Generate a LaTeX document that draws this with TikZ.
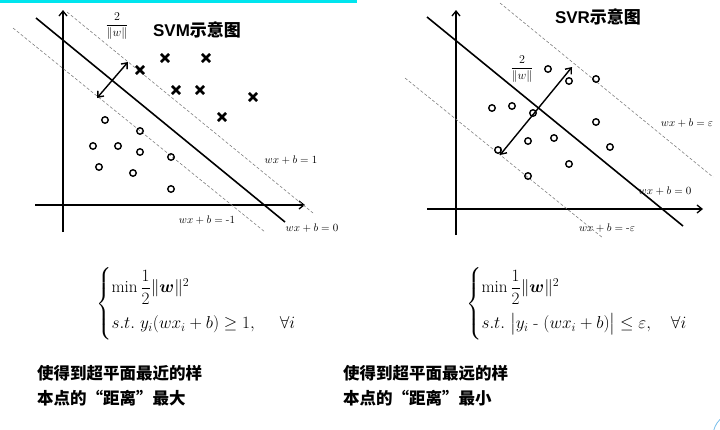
\documentclass[tikz,border=0pt]{standalone}
\usepackage{amsmath}
\usepackage{fontspec}
\newfontfamily\cjk{Noto Sans CJK SC}
\newfontfamily\titlesf{Liberation Sans}
\usetikzlibrary{arrows.meta,shapes.misc}
\definecolor{barcyan}{RGB}{0,229,238}
\definecolor{arcblue}{RGB}{120,190,235}
\begin{document}
\begin{tikzpicture}[
                        x=1pt, y=-1pt,
                        >={Straight Barb[length=5pt,width=8pt]},
                        axis/.style={->, line width=1.3pt},
                        plane/.style={line width=1.6pt},
                        margin/.style={gray, line width=0.6pt, dash pattern=on 3pt off 2pt},
                        posx/.style={cross out, draw, line width=2.6pt, minimum size=5.5pt, inner sep=0pt},
                        negpt/.style={circle, draw, line width=1.4pt, minimum size=6.5pt, inner sep=0pt},
                        eqlbl/.style={inner sep=0pt, font=\fontsize{10.95}{13}\selectfont},
                        gaplbl/.style={inner sep=0pt, font=\fontsize{12}{14}\selectfont},
                        title/.style={inner sep=0pt, font=\fontsize{17}{20}\selectfont\bfseries},
                        optlbl/.style={inner sep=0pt, anchor=west, font=\fontsize{17}{20}\selectfont},
                        note/.style={inner sep=0pt, anchor=west, align=left, font=\cjk\bfseries\fontsize{16.5}{25}\selectfont}
                    ]
                    \useasboundingbox (0,0) rectangle (720,429);
                    \fill [barcyan] (0,0) rectangle (357,2.5);
                    \begin{scope}
                        \clip (0,0) rectangle (720,429);
                        \draw [arcblue, line width=0.8pt] (736,436) circle (23);
                    \end{scope}

                    % SVM: axes, planes, margin
                    \coordinate (Lx0) at (35,205);   \coordinate (Lx1) at (305,205);
                    \coordinate (Ly0) at (63,232);   \coordinate (Ly1) at (63,10);
                    \coordinate (Lp0) at (36,18);    \coordinate (Lp1) at (285,222);
                    \coordinate (Lu0) at (67,12);    \coordinate (Lu1) at (313,213);
                    \coordinate (Ll0) at (13,28);    \coordinate (Ll1) at (265,232);
                    \coordinate (La0) at (97,98);    \coordinate (La1) at (128,62);
                    \draw [axis] (Lx0) -- (Lx1);
                    \draw [axis] (Ly0) -- (Ly1);
                    \draw [plane] (Lp0) -- (Lp1);
                    \draw [margin] (Lu0) -- (Lu1);
                    \draw [margin] (Ll0) -- (Ll1);
                    \draw [<->, line width=1.4pt] (La0) -- (La1);

                    % SVM: samples
                    \node [posx] (x1) at (165,58) {};
                    \node [posx] (x2) at (206,58) {};
                    \node [posx] (x3) at (140,70) {};
                    \node [posx] (x4) at (176,90) {};
                    \node [posx] (x5) at (200,90) {};
                    \node [posx] (x6) at (253,97) {};
                    \node [posx] (x7) at (222,117) {};
                    \node [negpt] (o1) at (105,120) {};
                    \node [negpt] (o2) at (140,131) {};
                    \node [negpt] (o3) at (93,146) {};
                    \node [negpt] (o4) at (118,146) {};
                    \node [negpt] (o5) at (140,152) {};
                    \node [negpt] (o6) at (171,157) {};
                    \node [negpt] (o7) at (99,167) {};
                    \node [negpt] (o8) at (133,173) {};
                    \node [negpt] (o9) at (171,189) {};

                    % SVM: labels
                    \node [title] (svmtitle) at (197,30) {\titlesf SVM\cjk 示意图};
                    \node [gaplbl] (Lgap) at (117,26) {$\dfrac{2}{\|w\|}$};
                    \node [eqlbl] (Lone) at (291,160) {$wx+b=1$};
                    \node [eqlbl] (Lmone) at (207,220) {$wx+b=\text{-}1$};
                    \node [eqlbl] (Lzero) at (312,228) {$wx+b=0$};

                    % SVR: axes, planes, tube
                    \coordinate (Rx0) at (427,209);  \coordinate (Rx1) at (703,209);
                    \coordinate (Ry0) at (456,235);  \coordinate (Ry1) at (456,10);
                    \coordinate (Rp0) at (427,17);   \coordinate (Rp1) at (683,226);
                    \coordinate (Ru0) at (500,3);    \coordinate (Ru1) at (713,177);
                    \coordinate (Rl0) at (405,78);   \coordinate (Rl1) at (603,238);
                    \coordinate (Ra0) at (500,155);  \coordinate (Ra1) at (572,67);
                    \draw [axis] (Rx0) -- (Rx1);
                    \draw [axis] (Ry0) -- (Ry1);
                    \draw [plane] (Rp0) -- (Rp1);
                    \draw [margin] (Ru0) -- (Ru1);
                    \draw [margin] (Rl0) -- (Rl1);
                    \draw [<->, line width=1.4pt] (Ra0) -- (Ra1);

                    % SVR: samples
                    \node [negpt] (r1) at (548,69) {};
                    \node [negpt] (r2) at (569,81) {};
                    \node [negpt] (r3) at (596,79) {};
                    \node [negpt] (r4) at (492,108) {};
                    \node [negpt] (r5) at (512,106) {};
                    \node [negpt] (r6) at (533,113) {};
                    \node [negpt] (r7) at (596,122) {};
                    \node [negpt] (r8) at (528,141) {};
                    \node [negpt] (r9) at (554,138) {};
                    \node [negpt] (r10) at (610,147) {};
                    \node [negpt] (r11) at (498,150) {};
                    \node [negpt] (r12) at (569,164) {};
                    \node [negpt] (r13) at (528,176) {};

                    % SVR: labels
                    \node [title] (svrtitle) at (598,17) {\titlesf SVR\cjk 示意图};
                    \node [gaplbl] (Rgap) at (522,69) {$\dfrac{2}{\|w\|}$};
                    \node [eqlbl] (Reps) at (687,123) {$wx+b=\varepsilon$};
                    \node [eqlbl] (Rzero) at (665,191) {$wx+b=0$};
                    \node [eqlbl] (Rmeps) at (607,228) {$wx+b=\text{-}\varepsilon$};

                    % Problems
                    \node [optlbl] (svmopt) at (96,304) {$\left\{\renewcommand{\arraystretch}{1.7}\begin{array}{@{}l@{}}
                        \min\dfrac{1}{2}\|\boldsymbol{w}\|^2\\
                        s.t.\ y_i(wx_i+b)\ge1,\quad\ \forall i
                      \end{array}\right.$};
                    \node [optlbl] (svropt) at (466,304) {$\left\{\renewcommand{\arraystretch}{1.7}\begin{array}{@{}l@{}}
                        \min\dfrac{1}{2}\|\boldsymbol{w}\|^2\\
                        s.t.\ \bigl|y_i\;\text{-}\;(wx_i+b)\bigr|\le\varepsilon,\quad\forall i
                      \end{array}\right.$};

                    % Notes
                    \node [note] (svmnote) at (37,386) {使得到超平面最近的样\\本点的“距离”最大};
                    \node [note] (svrnote) at (343,386) {使得到超平面最远的样\\本点的“距离”最小};
                \end{tikzpicture}
\end{document}
